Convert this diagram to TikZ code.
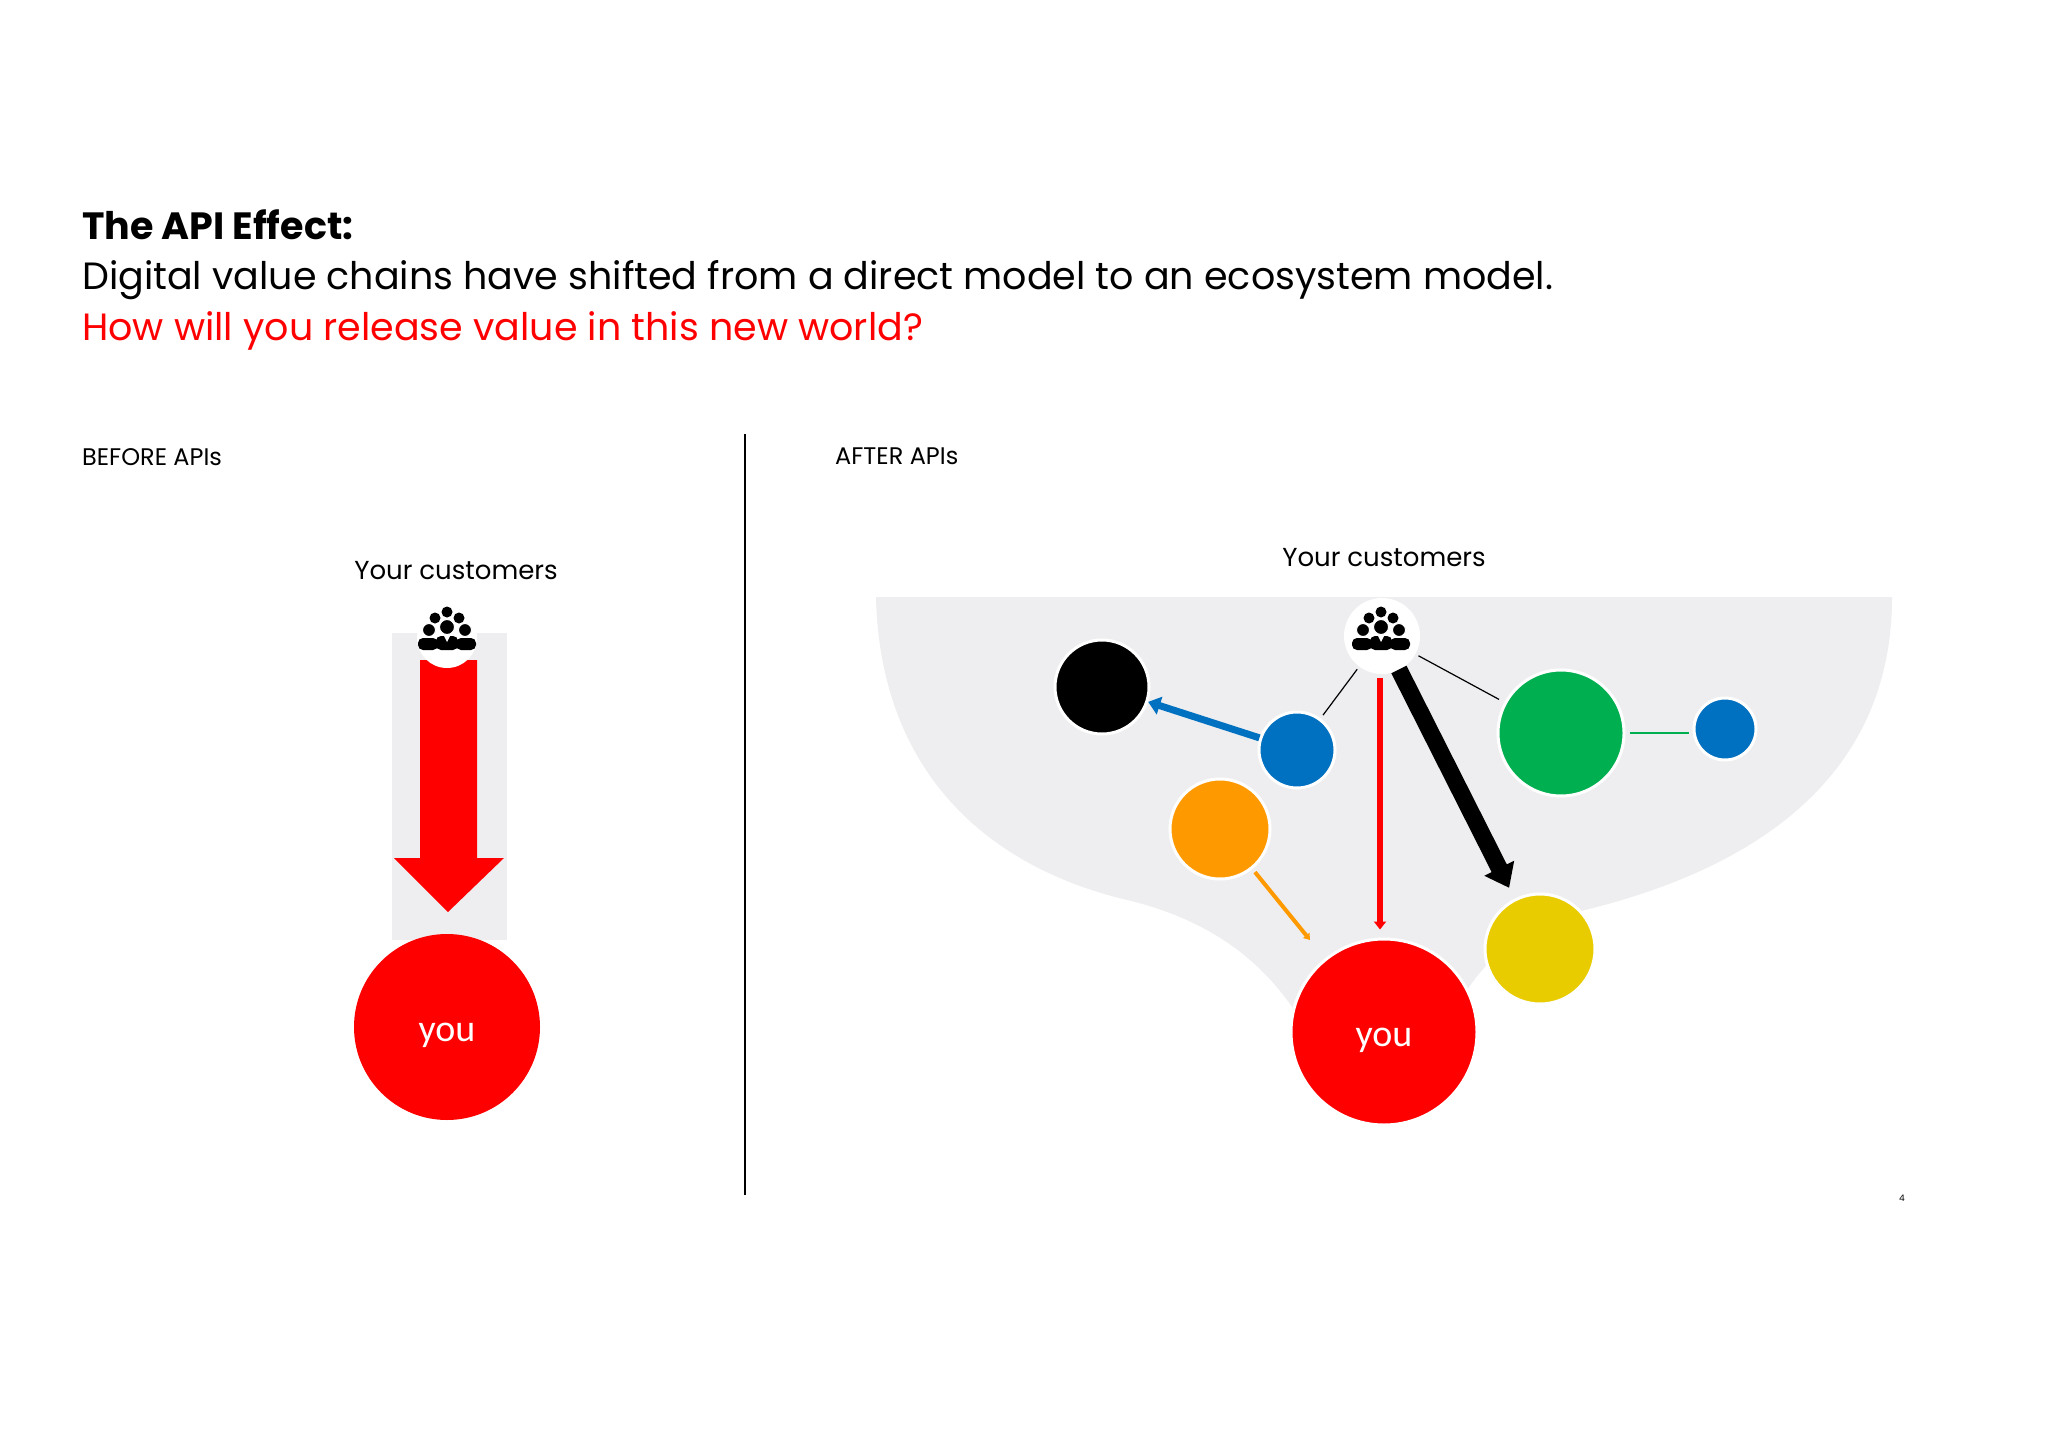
\documentclass[tikz,border=0pt]{standalone}
\usepackage{fontspec}
\setmainfont{Poppins}
\newfontfamily\youfont{Carlito}
\usetikzlibrary{arrows.meta}
\definecolor{apired}{HTML}{FF0000}
\definecolor{apiblue}{HTML}{0070C0}
\definecolor{apigreen}{HTML}{00B050}
\definecolor{apiorange}{HTML}{FF9900}
\definecolor{apiyellow}{HTML}{E8CC00}
\definecolor{apigray}{HTML}{EEEEF0}
\tikzset{
  dot/.style={circle,draw=white,line width=3pt,inner sep=0pt,minimum size=#1},
  lbl/.style={font=\fontsize{24}{28}\selectfont,anchor=base west,inner sep=0pt},
  youlbl/.style={label={[text=white,font=\youfont\fontsize{38}{40}\selectfont,yshift=-8pt]center:you}},
  people/.pic={
    \fill[black] (0,-38) circle (5.5) (-12,-32) circle (5.5) (12,-32) circle (5.5);
    \fill[black,draw=white,line width=1pt] (-18,-20) circle (6.5) (18,-20) circle (6.5) (0,-23) circle (7.5);
    \fill[black,rounded corners=5pt] (-29,0) -- (-29,-12) -- (-9,-12) -- (-9,0) -- cycle;
    \fill[black,rounded corners=5pt] (29,0) -- (29,-12) -- (9,-12) -- (9,0) -- cycle;
    \fill[black,rounded corners=5pt] (-11,0) -- (-11,-14) -- (11,-14) -- (11,0) -- cycle;
    \fill[white] (-3,-14) -- (0,-8) -- (3,-14) -- cycle;
  }
}
\begin{document}
\begin{tikzpicture}[x={(1pt,0)},y={(0,-1pt)}]
\useasboundingbox (0,0) rectangle (2048,1447);
\fill[white] (0,0) rectangle (2048,1447);
% titles
\node[font=\fontsize{38}{40}\selectfont\bfseries,anchor=base west,inner sep=0pt] (t1) at (82,240) {The API Effect:};
\node[font=\fontsize{38}{40}\selectfont,anchor=base west,inner sep=0pt] (t2) at (82,290) {Digital value chains have shifted from a direct model to an ecosystem model.};
\node[font=\fontsize{38}{40}\selectfont,anchor=base west,inner sep=0pt,text=apired] (t3) at (82,340) {How will you release value in this new world?};
\node[lbl] (bef) at (82,465) {BEFORE APIs};
\node[lbl] (aft) at (835,464) {AFTER APIs};
\coordinate (d1) at (745,434); \coordinate (d2) at (745,1195);
\draw[line width=2pt] (d1) -- (d2);
\node[font=\fontsize{9}{10}\selectfont] (pg) at (1902,1198) {4};
% ---- before
\node[font=\fontsize{26}{30}\selectfont] (yc1) at (456,571) {Your customers};
\fill[apigray] (392,633) rectangle (507,940);
\fill[apired] (420,660) -- (477,660) -- (477,858) -- (504,858) -- (448,912) -- (394,858) -- (420,858) -- cycle;
\fill[white] (447,638) circle (30);
\node[circle,inner sep=0pt,minimum size=60pt] (ic1) at (447,638) {};
\pic at (447,650) {people};
\node[dot=186pt,fill=apired,draw=none,youlbl] (you1) at (447,1027) {};
% ---- after
\node[font=\fontsize{26}{30}\selectfont] (yc2) at (1384,558) {Your customers};
\fill[apigray] (876,597) .. controls (880,770) and (985,865) .. (1123,899) .. controls (1215,920) and (1267,966) .. (1300,1019)
  -- (1450,1019) .. controls (1480,960) and (1520,925) .. (1593,908) .. controls (1780,860) and (1892,760) .. (1892,597) -- cycle;
\node[dot=76pt,fill=white,draw=none] (ic2) at (1382,636) {};
\pic at (1381,650) {people};
\node[dot=94pt,fill=black] (bk) at (1102,687) {};
\node[dot=76pt,fill=apiblue] (b1) at (1297,750) {};
\node[dot=100pt,fill=apiorange] (or) at (1220,829) {};
\node[dot=126pt,fill=apigreen] (gr) at (1561,733) {};
\node[dot=62pt,fill=apiblue] (b2) at (1725,729) {};
\node[dot=110pt,fill=apiyellow] (ye) at (1540,949) {};
\node[dot=186pt,fill=apired,youlbl] (you2) at (1384,1032) {};
\coordinate (oe) at (1310,940);
\draw[apiblue,line width=7pt,-{Triangle[width=18pt,length=12pt]}] (b1) -- (bk);
\draw[black,line width=1.2pt,shorten >=4pt,shorten <=2pt] (ic2) -- (b1);
\draw[black,line width=1.2pt,shorten >=6pt,shorten <=2pt] (ic2) -- (gr);
\draw[apigreen,line width=1.2pt,shorten >=4pt,shorten <=4pt] (gr.east) -- (b2.west |- gr.east);
\draw[apired,line width=6pt,-{Triangle[width=12pt,length=8pt]},shorten >=8pt,shorten <=2pt] (ic2.south -| 1380,0) -- (you2.north -| 1380,0);
\draw[black,line width=17pt,-{Triangle[width=32pt,length=22pt]},shorten >=12pt,shorten <=-2pt] (ic2) -- (ye);
\draw[apiorange,line width=4pt,-{Triangle[width=8pt,length=6pt]},shorten <=4pt] (or) -- (oe);
\end{tikzpicture}
\end{document}
